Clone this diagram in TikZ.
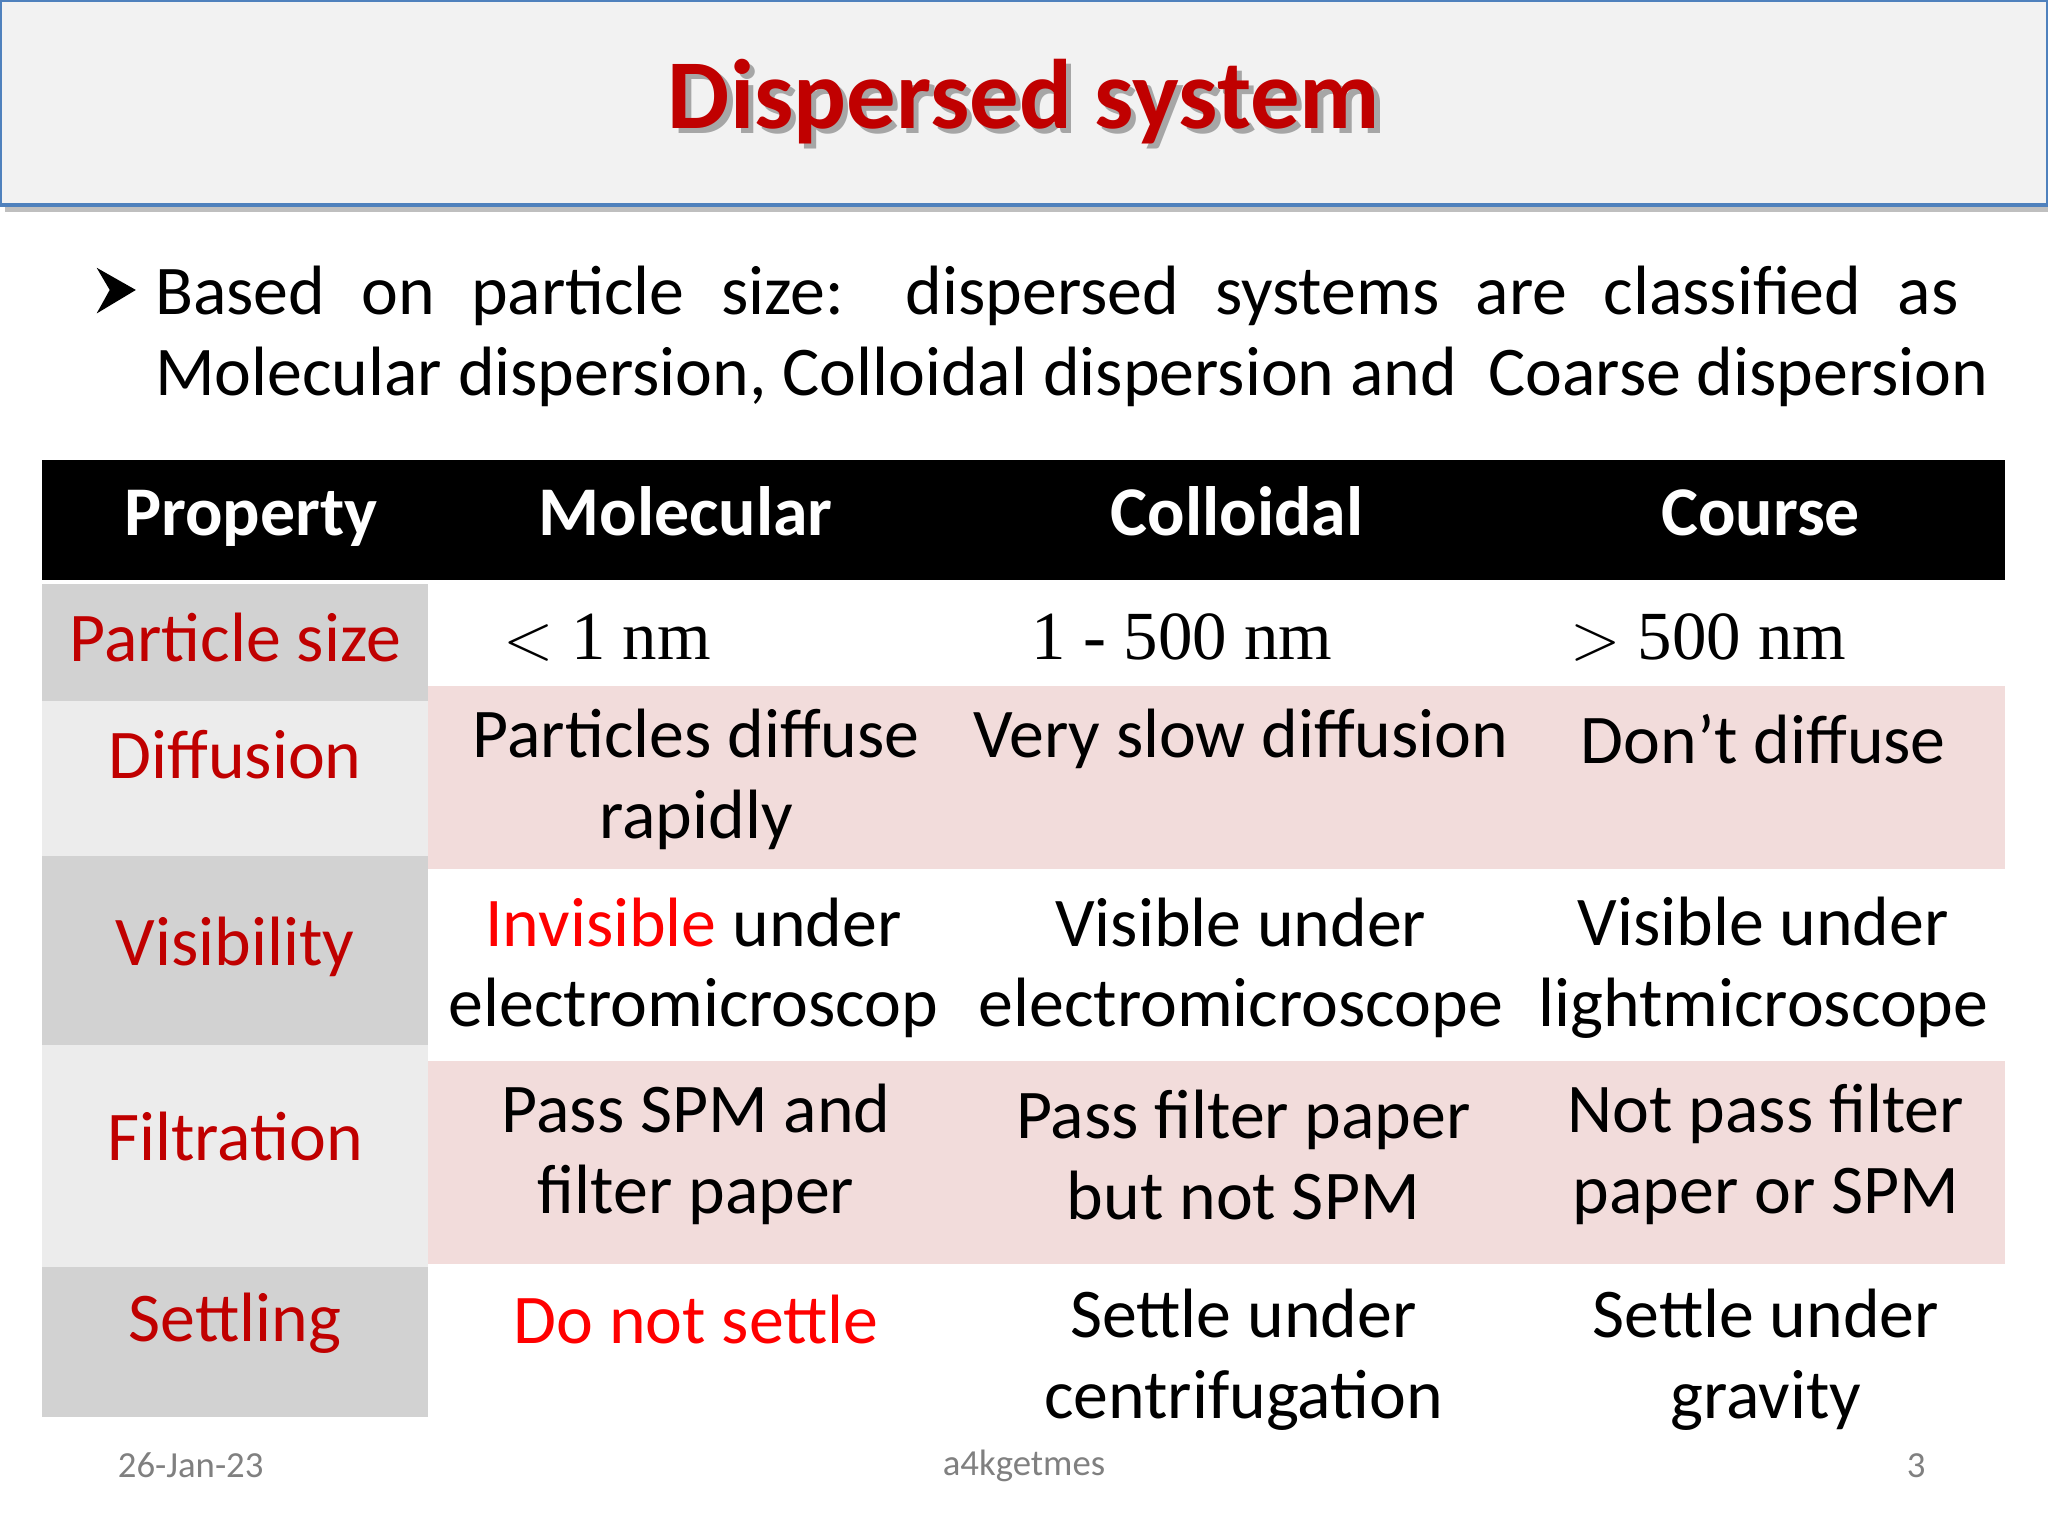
\documentclass[tikz,border=0pt]{standalone}
\usepackage{fontspec}
\setmainfont{Carlito}
\newfontfamily\tnr{Liberation Serif}
\definecolor{dred}{HTML}{C00000}
\definecolor{bred}{HTML}{FF0000}
\definecolor{pinkc}{HTML}{F2DCDB}
\definecolor{gdark}{HTML}{D2D2D2}
\definecolor{glight}{HTML}{ECECEC}
\definecolor{bandc}{HTML}{F2F2F2}
\definecolor{bordc}{HTML}{4F81BD}
\tikzset{
 cell/.style={align=center,font=\fontsize{15.2}{17.6}\selectfont,inner sep=0pt},
 hdr/.style={font=\fontsize{15.2}{18}\selectfont\bfseries,text=white,inner sep=0pt,anchor=base},
 lab/.style={font=\fontsize{15.2}{18}\selectfont,text=dred,inner sep=0pt},
 foot/.style={font=\fontsize{8}{10}\selectfont,text=gray,inner sep=0pt},
 ser/.style={cell,font=\tnr\fontsize{15}{18}\selectfont},
 intro/.style={anchor=base west,inner sep=0pt,font=\fontsize{15.2}{17.6}\selectfont}
}
\begin{document}
\begin{tikzpicture}[x=0.01cm,y=-0.01cm]
\useasboundingbox[fill=white] (0,0) rectangle (1568,1176);
% title band
\fill[black!25] (4,4) rectangle (1572,162);
\draw[bordc,fill=bandc,line width=1pt] (0,0) rectangle (1568,157);
\node[font=\fontsize{21.5}{24}\selectfont\bfseries,text=black!35,inner sep=0pt] at (788,82) {Dispersed system};
\node (title)[font=\fontsize{21.5}{24}\selectfont\bfseries,text=dred,inner sep=0pt] at (784,78) {Dispersed system};
% bullet
\fill (74,205) -- (104,222) -- (74,240) -- (84,222) -- cycle;
\node (intro1)[intro] at (118,241) {\makebox[13.8cm][s]{Based on particle size: dispersed systems are classified as}};
\node (intro2)[intro] at (118,303) {Molecular dispersion, Colloidal dispersion and~ Coarse dispersion};
% table backgrounds
\fill[black] (32,352) rectangle (1535,444);
\fill[gdark] (32,447) rectangle (328,537);
\fill[glight] (32,537) rectangle (328,655);
\fill[gdark] (32,655) rectangle (328,800);
\fill[glight] (32,800) rectangle (328,970);
\fill[gdark] (32,970) rectangle (328,1085);
\fill[pinkc] (328,525) rectangle (1535,665);
\fill[pinkc] (328,812) rectangle (1535,968);
% header
\node (h1)[hdr] at (192,410) {Property};
\node (h2)[hdr] at (525,410) {Molecular};
\node (h3)[hdr] at (947,410) {Colloidal};
\node (h4)[hdr] at (1348,410) {Course};
% labels
\node (l1)[lab] at (180,488) {Particle size};
\node (l2)[lab] at (180,578) {Diffusion};
\node (l3)[lab] at (180,725) {Visibility};
\node (l4)[lab] at (180,870) {Filtration};
\node (l5)[lab] at (180,1013) {Settling};
% particle size
\node (p1)[ser] at (465,488) {$<$ 1 nm};
\node (p2)[ser] at (905,488) {1 - 500 nm};
\node (p3)[ser] at (1308,488) {$>$ 500 nm};
% diffusion
\node (d1)[cell] at (533,597) {Particles diffuse\\rapidly};
\node (d2)[cell] at (950,566) {Very slow diffusion};
\node (d3)[cell] at (1350,566) {Don’t diffuse};
% visibility
\node (v1)[cell] at (531,741) {\textcolor{bred}{Invisible} under\\electromicroscop};
\node (v2)[cell] at (950,741) {Visible under\\electromicroscope};
\node (v3)[cell] at (1350,741) {Visible under\\lightmicroscope};
% filtration
\node (f1)[cell] at (533,884) {Pass SPM and\\filter paper};
\node (f2)[cell] at (952,884) {Pass filter paper\\but not SPM};
\node (f3)[cell] at (1352,884) {Not pass filter\\paper or SPM};
% settling
\node (s1)[cell,text=bred] at (533,1010) {Do not settle};
\node (s2)[cell] at (952,1041) {Settle under\\centrifugation};
\node (s3)[cell] at (1352,1041) {Settle under\\gravity};
% footer
\node (ft1)[foot] at (146,1122) {26-Jan-23};
\node (ft2)[foot] at (784,1122) {a4kgetmes};
\node (ft3)[foot] at (1467,1122) {3};
\end{tikzpicture}
\end{document}
